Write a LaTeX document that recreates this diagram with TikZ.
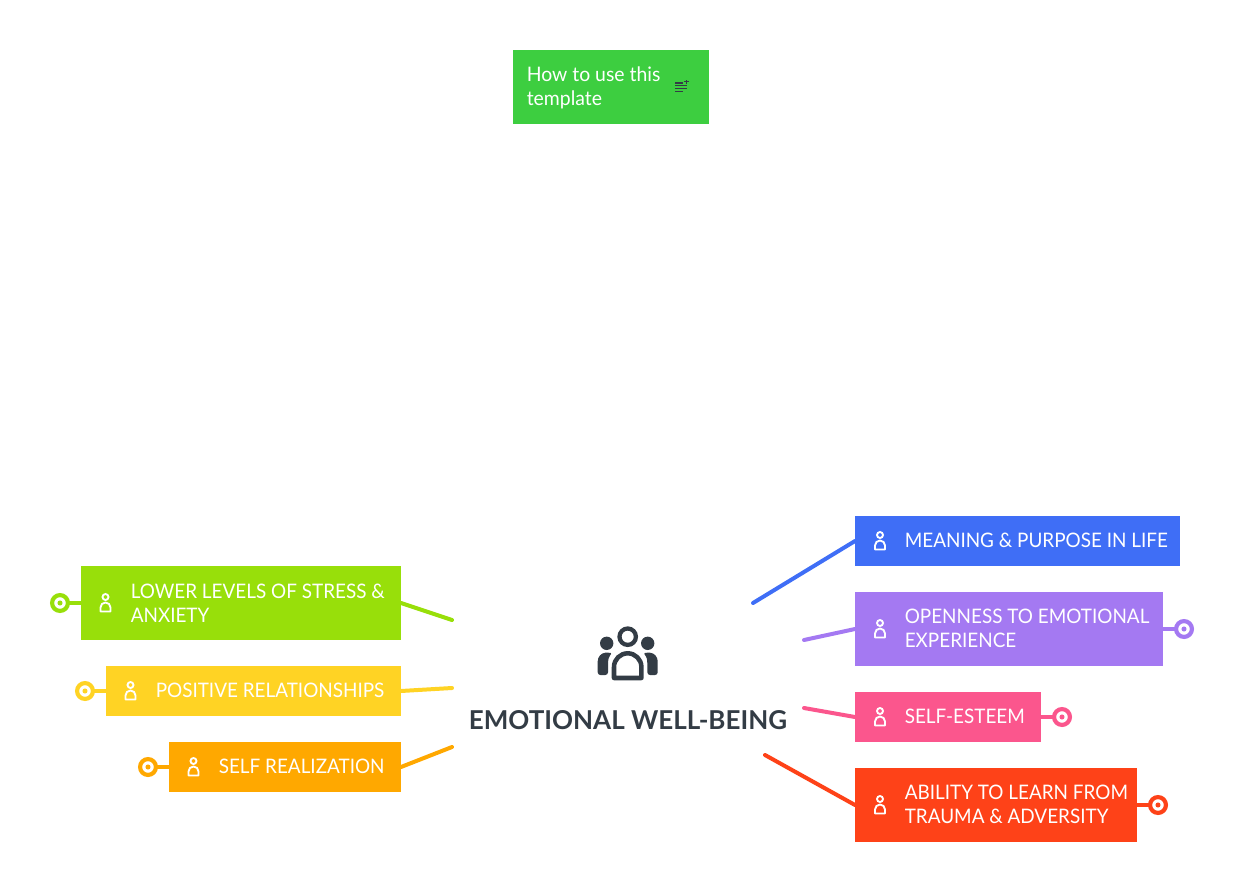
\documentclass[tikz,border=0pt]{standalone}
\usepackage{fontspec}
\setmainfont{Lato}
\newfontfamily\lblfont[FakeStretch=0.945]{Lato}
\newfontfamily\howfont[FakeStretch=0.97]{Lato}
\definecolor{cgreen}{HTML}{3DCE40}
\definecolor{cblue}{HTML}{3F6EF6}
\definecolor{cpurple}{HTML}{A479F2}
\definecolor{cpink}{HTML}{FB568D}
\definecolor{cred}{HTML}{FE4218}
\definecolor{clime}{HTML}{98DF0A}
\definecolor{cyellow}{HTML}{FFD324}
\definecolor{corange}{HTML}{FFA800}
\definecolor{cdark}{HTML}{333C45}
\tikzset{
  x=0.75pt,y=-0.75pt,
  boxn/.style={anchor=north west,inner sep=0pt,outer sep=0pt,fill=#1},
  lbl/.style={anchor=west,inner sep=0pt,align=left,text=white,font=\lblfont\fontsize{15}{18}\selectfont},
  conn/.style={line width=3pt,line cap=round,#1},
  stub/.style={line width=2.6pt,#1},
  dotn/.style={circle,draw=#1,line width=3.1pt,fill=white,minimum size=11.9pt,inner sep=0pt,outer sep=0pt},
  pupil/.style={circle,fill=#1,minimum size=3.8pt,inner sep=0pt},
  person/.pic={
    \draw[white,line width=1.4pt] (0,-6) circle[radius=3];
    \draw[white,line width=1.4pt,line join=round] (-5,8.5) -- (-5,4.5) arc[start angle=180,end angle=360,radius=5] -- (5,8.5) -- cycle;
  }
}
\newcommand{\tagbox}[6]{% name, x, y, w, h, colour
  \node[boxn=#6,minimum width=#4*0.75pt,minimum height=#5*0.75pt] (#1) at (#2,#3) {};
}
\begin{document}
\begin{tikzpicture}
\useasboundingbox (0,0) rectangle (1244,892);
% free ends
\coordinate (eblue) at (753,603);
\coordinate (epurple) at (804,640);
\coordinate (epink) at (804,708);
\coordinate (ered) at (765,755);
\coordinate (elime) at (452,620);
\coordinate (eyellow) at (452,688);
\coordinate (eorange) at (452,747);
% connectors
\tagbox{how}{513}{50}{196}{74}{cgreen}
\tagbox{blue}{855}{516}{325}{50}{cblue}
\tagbox{purple}{855}{592}{308}{74}{cpurple}
\tagbox{pink}{855}{692}{186}{50}{cpink}
\tagbox{red}{855}{768}{282}{74}{cred}
\tagbox{lime}{81}{566}{320}{74}{clime}
\tagbox{yellow}{106}{666}{295}{50}{cyellow}
\tagbox{orange}{169}{742}{232}{50}{corange}
\draw[conn=cblue] (eblue) -- (blue.west);
\draw[conn=cpurple] (epurple) -- (purple.west);
\draw[conn=cpink] (epink) -- (pink.west);
\draw[conn=cred] (ered) -- (red.west);
\draw[conn=clime] (elime) -- (lime.east);
\draw[conn=cyellow] (eyellow) -- (yellow.east);
\draw[conn=corange] (eorange) -- (orange.east);
% end dots
\node[dotn=cpurple] (dpurple) at (1184,629) {};
\node[dotn=cpink] (dpink) at (1062,717) {};
\node[dotn=cred] (dred) at (1158,805) {};
\node[dotn=clime] (dlime) at (60,603) {};
\node[dotn=cyellow] (dyellow) at (85,691) {};
\node[dotn=corange] (dorange) at (148,767) {};
\draw[stub=cpurple] (purple.east) -- (dpurple);
\draw[stub=cpink] (pink.east) -- (dpink);
\draw[stub=cred] (red.east) -- (dred);
\draw[stub=clime] (lime.west) -- (dlime);
\draw[stub=cyellow] (yellow.west) -- (dyellow);
\draw[stub=corange] (orange.west) -- (dorange);
\node[pupil=cpurple] at (dpurple) {};
\node[pupil=cpink] at (dpink) {};
\node[pupil=cred] at (dred) {};
\node[pupil=clime] at (dlime) {};
\node[pupil=cyellow] at (dyellow) {};
\node[pupil=corange] at (dorange) {};
% person icons
\pic at (880,541) {person};
\pic at (880,629) {person};
\pic at (880,717) {person};
\pic at (880,805) {person};
\pic at (105.5,603) {person};
\pic at (130.5,691) {person};
\pic at (193.5,767) {person};
% labels
\node[lbl,font=\howfont\fontsize{15}{18}\selectfont] (thow) at (526.5,88) {How to use this\\template};
\node[lbl] (tblue) at (904.5,540.8) {MEANING \& PURPOSE IN LIFE};
\node[lbl] (tpurple) at (904.5,628.8) {OPENNESS TO EMOTIONAL\\EXPERIENCE};
\node[lbl] (tpink) at (904.5,716.8) {SELF-ESTEEM};
\node[lbl] (tred) at (904.5,804.8) {ABILITY TO LEARN FROM\\TRAUMA \& ADVERSITY};
\node[lbl] (tlime) at (130.5,602.8) {LOWER LEVELS OF STRESS \&\\ANXIETY};
\node[lbl] (tyellow) at (155.5,690.8) {POSITIVE RELATIONSHIPS};
\node[lbl] (torange) at (218.5,766.8) {SELF REALIZATION};
\node[anchor=center,inner sep=0pt,text=cdark,font=\fontsize{19.5}{24}\selectfont\bfseries] (title) at (628,720.5) {EMOTIONAL WELL-BEING};
% note icon
\fill[cdark] (675,82.2) rectangle (683,83.5);
\fill[cdark] (675,85) rectangle (687,86.3);
\fill[cdark] (675,88) rectangle (687,89.3);
\fill[cdark] (675,90.6) rectangle (683,91.9);
\fill[cdark] (684,81.2) rectangle (688.5,82.2);
\fill[cdark] (685.8,79.5) rectangle (686.8,84);
% central icon
\fill[cdark] (606.7,643.3) circle[radius=6.7];
\fill[cdark] (647.7,643.3) circle[radius=6.7];
\draw[cdark,line width=3.2pt] (627.7,636.7) circle[radius=8.2];
\fill[cdark,rounded corners=2pt] (597.7,675) -- (597.7,664) .. controls (597.7,657) and (601,653) .. (608,652.5) .. controls (611,653) and (611,654) .. (609.5,656) .. controls (608,660) and (608,668) .. (608,675) -- cycle;
\fill[cdark,rounded corners=2pt] (657.7,675) -- (657.7,664) .. controls (657.7,657) and (654.4,653) .. (647.4,652.5) .. controls (644.4,653) and (644.4,654) .. (645.9,656) .. controls (647.4,660) and (647.4,668) .. (647.4,675) -- cycle;
\draw[cdark,line width=3.4pt,line join=round] (614,678) -- (614,667) arc[start angle=180,end angle=360,radius=13.7] -- (641.4,678) -- cycle;
\end{tikzpicture}
\end{document}
